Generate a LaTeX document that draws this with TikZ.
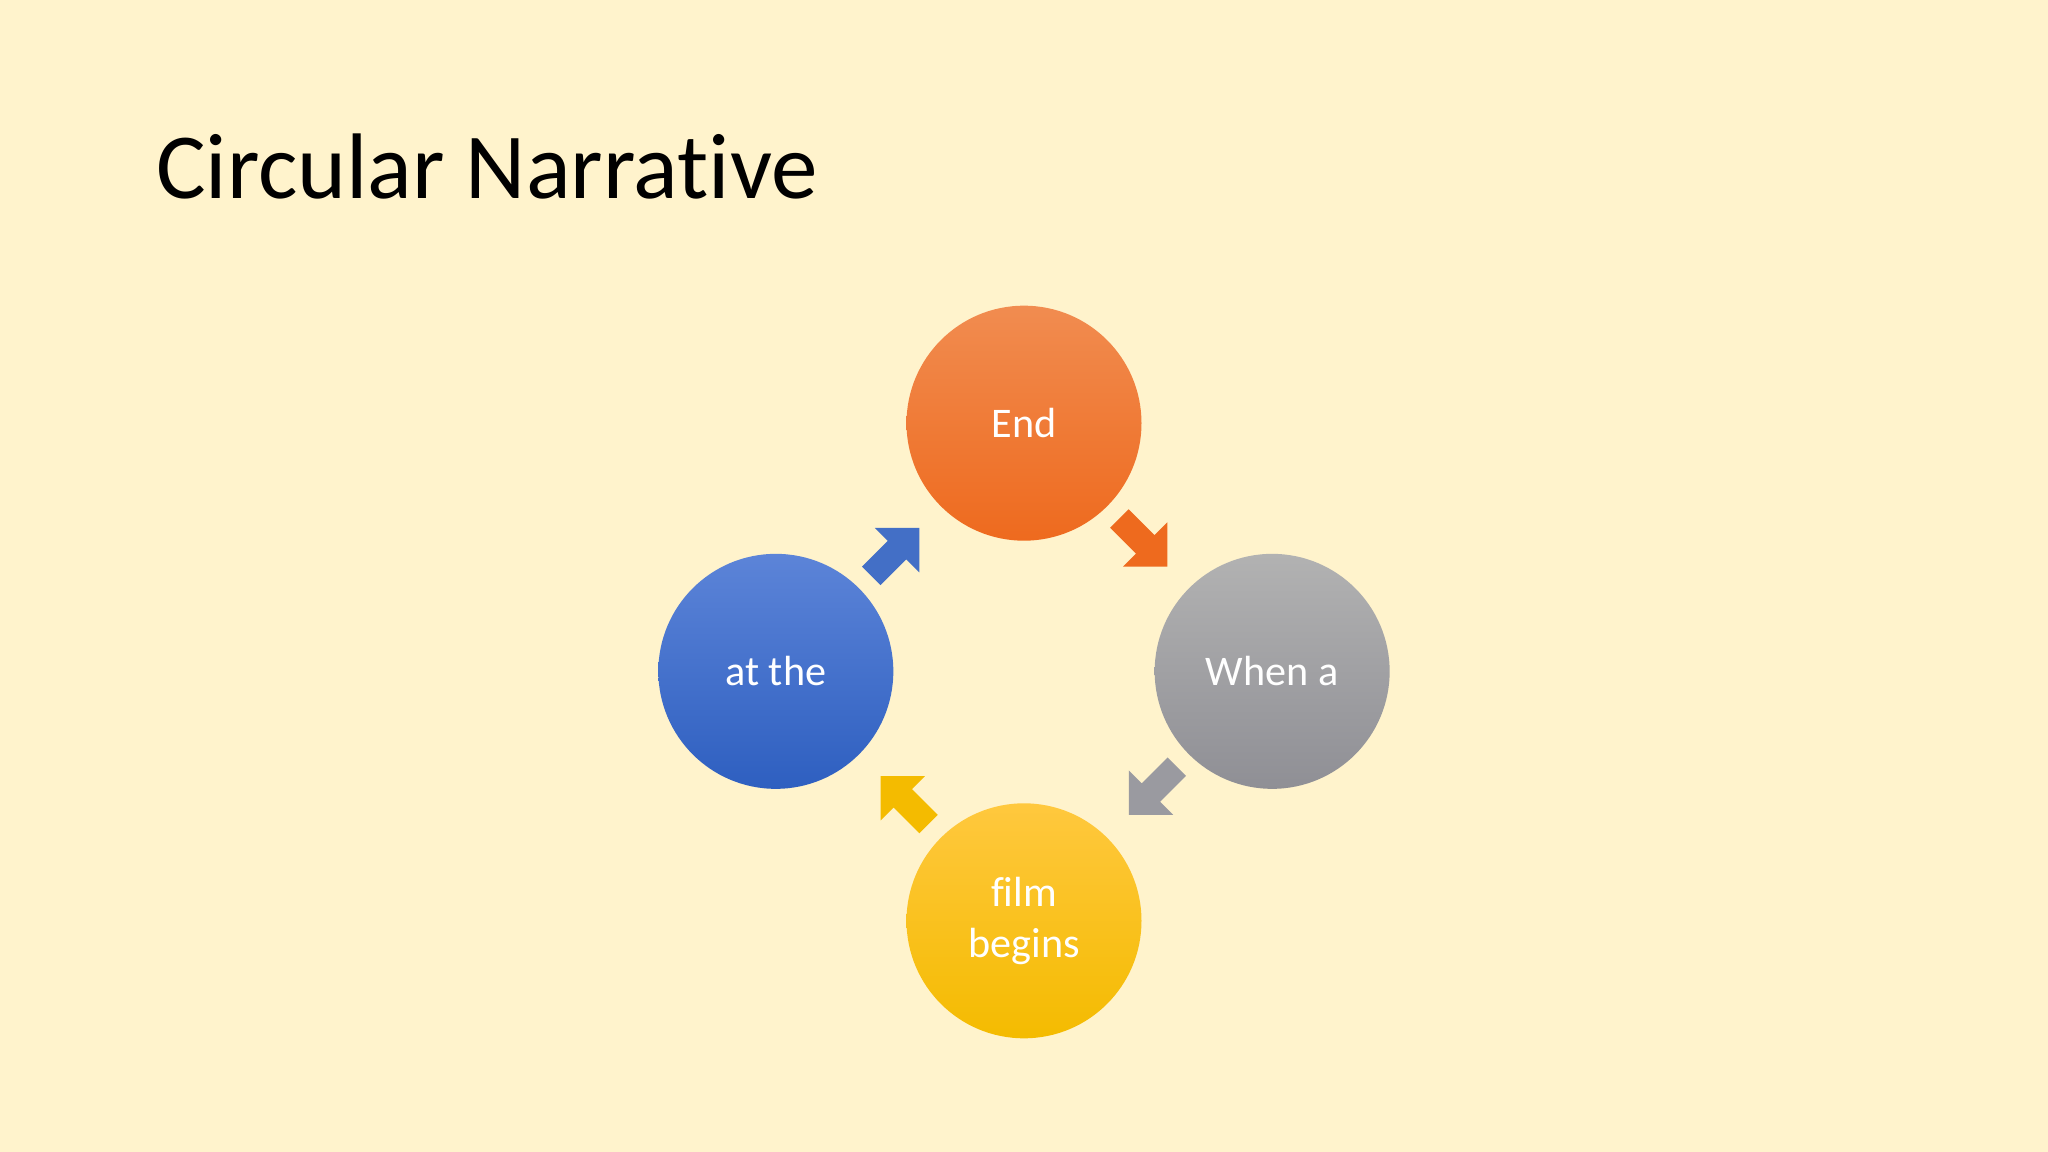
\documentclass[tikz,border=0pt]{standalone}
\usepackage{fontspec}
\setmainfont{Carlito}[Ligatures={NoCommon,NoRare,NoContextual}]
\definecolor{bg}{HTML}{FFF3CC}
\definecolor{orT}{HTML}{F18C50}\definecolor{orB}{HTML}{EE6A1E}
\definecolor{grT}{HTML}{B2B2B2}\definecolor{grB}{HTML}{8F8F95}
\definecolor{yeT}{HTML}{FFC83E}\definecolor{yeB}{HTML}{F4BB00}
\definecolor{blT}{HTML}{5C84D8}\definecolor{blB}{HTML}{2E5FC0}
\begin{document}
\begin{tikzpicture}[x=0.01306cm,y=-0.01306cm,
  ball/.style={circle,minimum size=2.35cm,inner sep=0pt,text=white,font=\fontsize{12}{14.5}\selectfont,align=center},
  blockarrow/.pic={\fill[pic actions] (-24,-10)--(4,-10)--(4,-24)--(28,0)--(4,24)--(4,10)--(-24,10)--cycle;}]
\fill[bg] (0,0) rectangle (1568,882);
\useasboundingbox (0,0) rectangle (1568,882);
\node[anchor=base west,inner sep=0pt,font=\fontsize{26.5}{32}\selectfont] (title) at (119,152) {Circular Narrative};
\node[ball,top color=orT,bottom color=orB] (end) at (784,324) {End};
\node[ball,top color=grT,bottom color=grB] (when) at (974,514) {When a};
\node[ball,top color=yeT,bottom color=yeB] (film) at (784,705) {film\\begins};
\node[ball,top color=blT,bottom color=blB] (atthe) at (594,514) {at the};
\pic[fill=orB,rotate=-45] at (874,414) {blockarrow};
\pic[fill=grB!90,rotate=-135] at (884,604) {blockarrow};
\pic[fill=yeB,rotate=135] at (694,614) {blockarrow};
\pic[fill=blB!90!white,rotate=45] at (684,424) {blockarrow};
\end{tikzpicture}
\end{document}
